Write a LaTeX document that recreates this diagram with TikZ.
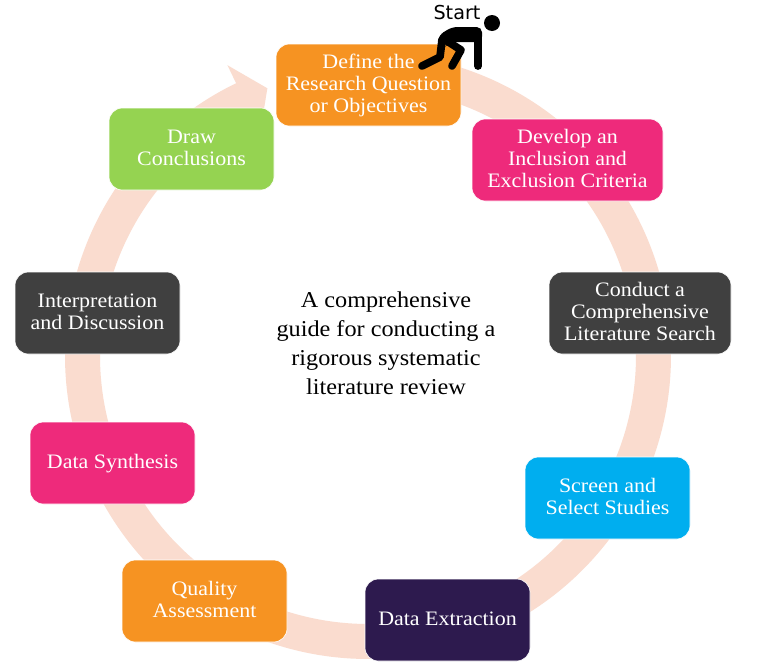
\documentclass[tikz,border=0pt]{standalone}
\usepackage{fontspec}
\setmainfont[FakeStretch=1.07]{Liberation Serif}
\newfontfamily\startfont{DejaVu Sans}
\definecolor{ringc}{HTML}{FADCCF}
\definecolor{orangec}{HTML}{F69322}
\definecolor{pinkc}{HTML}{EE2A7B}
\definecolor{greyc}{HTML}{404040}
\definecolor{cyanc}{HTML}{00AEEF}
\definecolor{purplec}{HTML}{2D1A4E}
\definecolor{greenc}{HTML}{95D351}
\tikzset{
  stepbox/.style={draw=white,line width=0.5pt,rounded corners=10pt,inner sep=0pt},
  steptext/.style={inner sep=0pt,align=center,text=white,yshift=-0.75pt,
    font=\fontsize{15.4pt}{16.7pt}\selectfont},
  figline/.style={line width=5.8pt,line cap=round,line join=round,black},
}
\newcommand{\bx}[7]{%
  \pgfmathsetmacro{\bw}{(#4-#2)*0.75}\pgfmathsetmacro{\bh}{(#5-#3)*0.75}%
  \node[stepbox,fill=#6,minimum width=\bw pt,minimum height=\bh pt] (#1) at ({(#2+#4)/2},{(#3+#5)/2}) {};
  \node[steptext] (#1text) at (#1.center) {\begin{tabular}{@{}c@{}}#7\end{tabular}};}
\begin{document}
\begin{tikzpicture}[x=0.75pt,y=-0.75pt]
\useasboundingbox (0,0) rectangle (775,668);
\fill[white] (0,0) rectangle (775,668);
% ring arrow
\fill[ringc] plot[domain=280:604.2,samples=160,smooth] ({368+303*cos(\x)},{356+303*sin(\x)})
  -- ({368+323*cos(604.2)},{356+323*sin(604.2)})
  -- ({368+286*cos(609.4)},{356+286*sin(609.4)})
  -- ({368+248*cos(604.2)},{356+248*sin(604.2)})
  -- plot[domain=604.2:280,samples=160,smooth] ({368+268*cos(\x)},{356+268*sin(\x)}) -- cycle;
% boxes
\bx{define}{276}{44}{461}{126}{orangec}{Define the\\Research Question\\or Objectives}
\bx{develop}{472}{119}{663}{201}{pinkc}{Develop an\\Inclusion and\\Exclusion Criteria}
\bx{conduct}{549}{272}{731}{354}{greyc}{Conduct a\\Comprehensive\\Literature Search}
\bx{screen}{525}{457}{690}{539}{cyanc}{Screen and\\Select Studies}
\bx{extract}{365}{579}{530}{661}{purplec}{Data Extraction}
\bx{quality}{122}{560}{287}{642}{orangec}{Quality\\Assessment}
\bx{synth}{30}{422}{195}{504}{pinkc}{Data Synthesis}
\bx{interp}{15}{272}{180}{354}{greyc}{Interpretation\\and Discussion}
\bx{concl}{109}{108}{274}{190}{greenc}{Draw\\Conclusions}
% centre text
\node[align=center,font=\fontsize{17pt}{21.7pt}\selectfont,inner sep=0pt] (title) at (386,343)
  {A comprehensive\\guide for conducting a\\rigorous systematic\\literature review};
% start figure
\node[font=\startfont\fontsize{14.4pt}{16pt}\selectfont,inner sep=0pt] (start) at (457,13) {Start};
\fill[black] (492,23) circle[radius=8];
\fill[black,rounded corners=4pt] (437,46) -- (439,35) -- (452,27) -- (482,27) -- (482,42) -- (447,42) -- (445,48) -- cycle;
\draw[figline] (478,34) -- (478,66);
\draw[figline] (442,40) -- (440,57) -- (422,66);
\draw[figline] (447,41) -- (461,50) -- (452,66);
\end{tikzpicture}
\end{document}
